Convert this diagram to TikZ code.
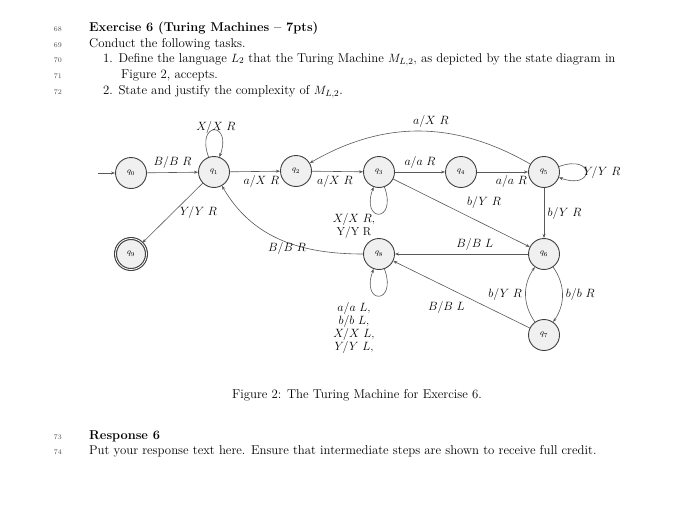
\documentclass[tikz,border=0pt]{standalone}
\usetikzlibrary{arrows.meta}
\begin{document}
\begin{tikzpicture}[x=1pt,y=-1pt,
  st/.style={circle,draw=black!75,fill=black!6,line width=0.9pt,minimum size=31pt,inner sep=0pt,font=\fontsize{8}{9}\selectfont},
  e/.style={draw=black!65,line width=0.6pt,-{Stealth[length=4pt,width=3pt]}},
  lp/.style={e,out=#1+20,in=#1-20,looseness=9},
  lb/.style={font=\fontsize{11.5}{13}\selectfont},
  tx/.style={font=\fontsize{12.8}{15}\selectfont,anchor=base west,inner sep=0pt},
  ln/.style={font=\fontsize{7}{8}\selectfont,anchor=base east,inner sep=0pt,text=black!70}]
\useasboundingbox (0,0) rectangle (700,511);
\fill[white] (0,0) rectangle (700,511);
% text
\node[ln] (l68) at (62,31) {68};
\node[ln] (l69) at (62,48) {69};
\node[ln] (l70) at (62,62) {70};
\node[ln] (l71) at (62,78) {71};
\node[ln] (l72) at (62,94) {72};
\node[tx] (t1) at (89,31) {\textbf{Exercise 6 (Turing Machines -- 7pts)}};
\node[tx] (t2) at (89,48) {Conduct the following tasks.};
\node[tx] (t3) at (103,62) {1. Define the language $L_2$ that the Turing Machine $M_{L,2}$, as depicted by the state diagram in};
\node[tx] (t4) at (121,78) {Figure 2, accepts.};
\node[tx] (t5) at (103,94) {2. State and justify the complexity of $M_{L,2}$.};
\node[tx] (cap) at (232,398) {Figure 2: The Turing Machine for Exercise 6.};
\node[ln] (l73) at (62,439) {73};
\node[ln] (l74) at (62,454) {74};
\node[tx] (r1) at (89,439) {\textbf{Response 6}};
\node[tx] (r2) at (89,454) {Put your response text here. Ensure that intermediate steps are shown to receive full credit.};
% states
\node[st] (q0) at (131,173) {$q_0$};
\node[st] (q1) at (214,172) {$q_1$};
\node[st] (q2) at (296,171) {$q_2$};
\node[st] (q3) at (379,172) {$q_3$};
\node[st] (q4) at (461,172) {$q_4$};
\node[st] (q5) at (544,172) {$q_5$};
\node[st] (q6) at (544,254) {$q_6$};
\node[st] (q7) at (544,335) {$q_7$};
\node[st] (q8) at (379,254) {$q_8$};
\node[st,double,double distance=0.8pt,line width=1.1pt] (q9) at (131,254) {$q_9$};
\coordinate (s) at (98,173);
\draw[e] (s) -- (q0);
\draw[e] (q0) -- node[lb,above]{$B/B\ R$} (q1);
\draw[lp=90] (q1) to (q1);
\node[lb] (lx) at (216,127) {$X/X\ R$};
\draw[e] (q1) -- node[lb,below right,pos=0.2]{$a/X\ R$} (q2);
\draw[e] (q2) -- node[lb,below,pos=0.45]{$a/X\ R$} (q3);
\draw[lp=-90] (q3) to (q3);
\node[lb,align=center] (l3) at (354,226) {$X/X\ R$,\\Y/Y R};
\draw[e] (q3) -- node[lb,above]{$a/a\ R$} (q4);
\draw[e] (q4) -- node[lb,below right,pos=0.3]{$a/a\ R$} (q5);
\node[lb] (lby) at (484,202) {$b/Y\ R$};
\draw[e] (q5) to[out=150,in=30] node[lb,above,pos=0.45]{$a/X\ R$} (q2);
\draw[lp=0] (q5) to (q5);
\node[lb] (l5) at (602,172) {$Y/Y\ R$};
\draw[e] (q5) -- node[lb,right]{$b/Y\ R$} (q6);
\draw[e] (q3) -- (q6);
\draw[e] (q6) -- node[lb,above,pos=0.4]{$B/B\ L$} (q8);
\draw[e] (q6) to[bend left=35] node[lb,right]{$b/b\ R$} (q7);
\draw[e] (q7) to[bend left=35] node[lb,left]{$b/Y\ R$} (q6);
\draw[e] (q7) -- node[lb,below left,pos=0.45]{$B/B\ L$} (q8);
\draw[lp=-90] (q8) to (q8);
\node[lb,align=center] (l8) at (354,328) {$a/a\ L$,\\$b/b\ L$,\\$X/X\ L$,\\$Y/Y\ L$,};
\draw[e] (q8) to[out=180,in=-60] (q1);
\node[lb] (lbr) at (287,248) {$B/B\ R$};
\draw[e] (q1) -- node[lb,right,pos=0.5,xshift=4pt]{$Y/Y\ R$} (q9);
\end{tikzpicture}
\end{document}
